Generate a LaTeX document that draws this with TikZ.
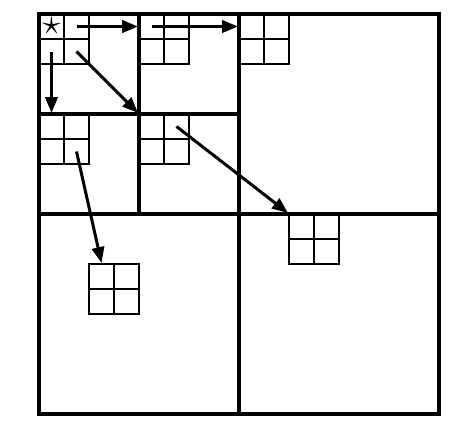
\documentclass[tikz,border=0pt]{standalone}
\usetikzlibrary{arrows.meta}

\begin{document}
\begin{tikzpicture}
            [x=0.5cm, y=-0.5cm,
             cell/.style = {draw, rectangle, minimum size=0.5cm, inner sep=0pt, line width=1.2pt},
             heavy/.style = {line width=2pt},
             link/.style = {line width=1.7pt, -{Triangle[length=9pt,width=7pt]}}]
            \useasboundingbox (-1.56,-0.56) rectangle (17.4,16.4);

            % small 2x2 blocks, one in each region
            \foreach \g/\x/\y in {A/0/0, B/4/0, C/0/4, D/4/4, E/8/0, F/2/10, G/10/8}
                \foreach \i in {0,1}
                    \foreach \j in {0,1}
                        \node[cell] (\g-\i-\j) at ({\x+\i+0.5},{\y+\j+0.5}) {};

            \node (Star) at (A-0-0) {\huge$\star$};

            % region borders
            \draw[heavy] (0,0) rectangle (16,16);
            \draw[heavy] (8,0) -- (8,16);
            \draw[heavy] (0,8) -- (16,8);
            \draw[heavy] (4,0) -- (4,8);
            \draw[heavy] (0,4) -- (8,4);

            \draw[link] (A-1-0.center) -- (B-0-0.west);
            \draw[link] (B-0-0.center) -- (E-0-0.west);
            \draw[link] (A-0-1.center) -- (C-0-0.north);
            \draw[link] (A-1-1.center) -- (D-0-0.north west);
            \draw[link] (C-1-1.center) -- (F-0-0.north);
            \draw[link] (D-1-0.center) -- (G-0-0.north west);
        \end{tikzpicture}
\end{document}
